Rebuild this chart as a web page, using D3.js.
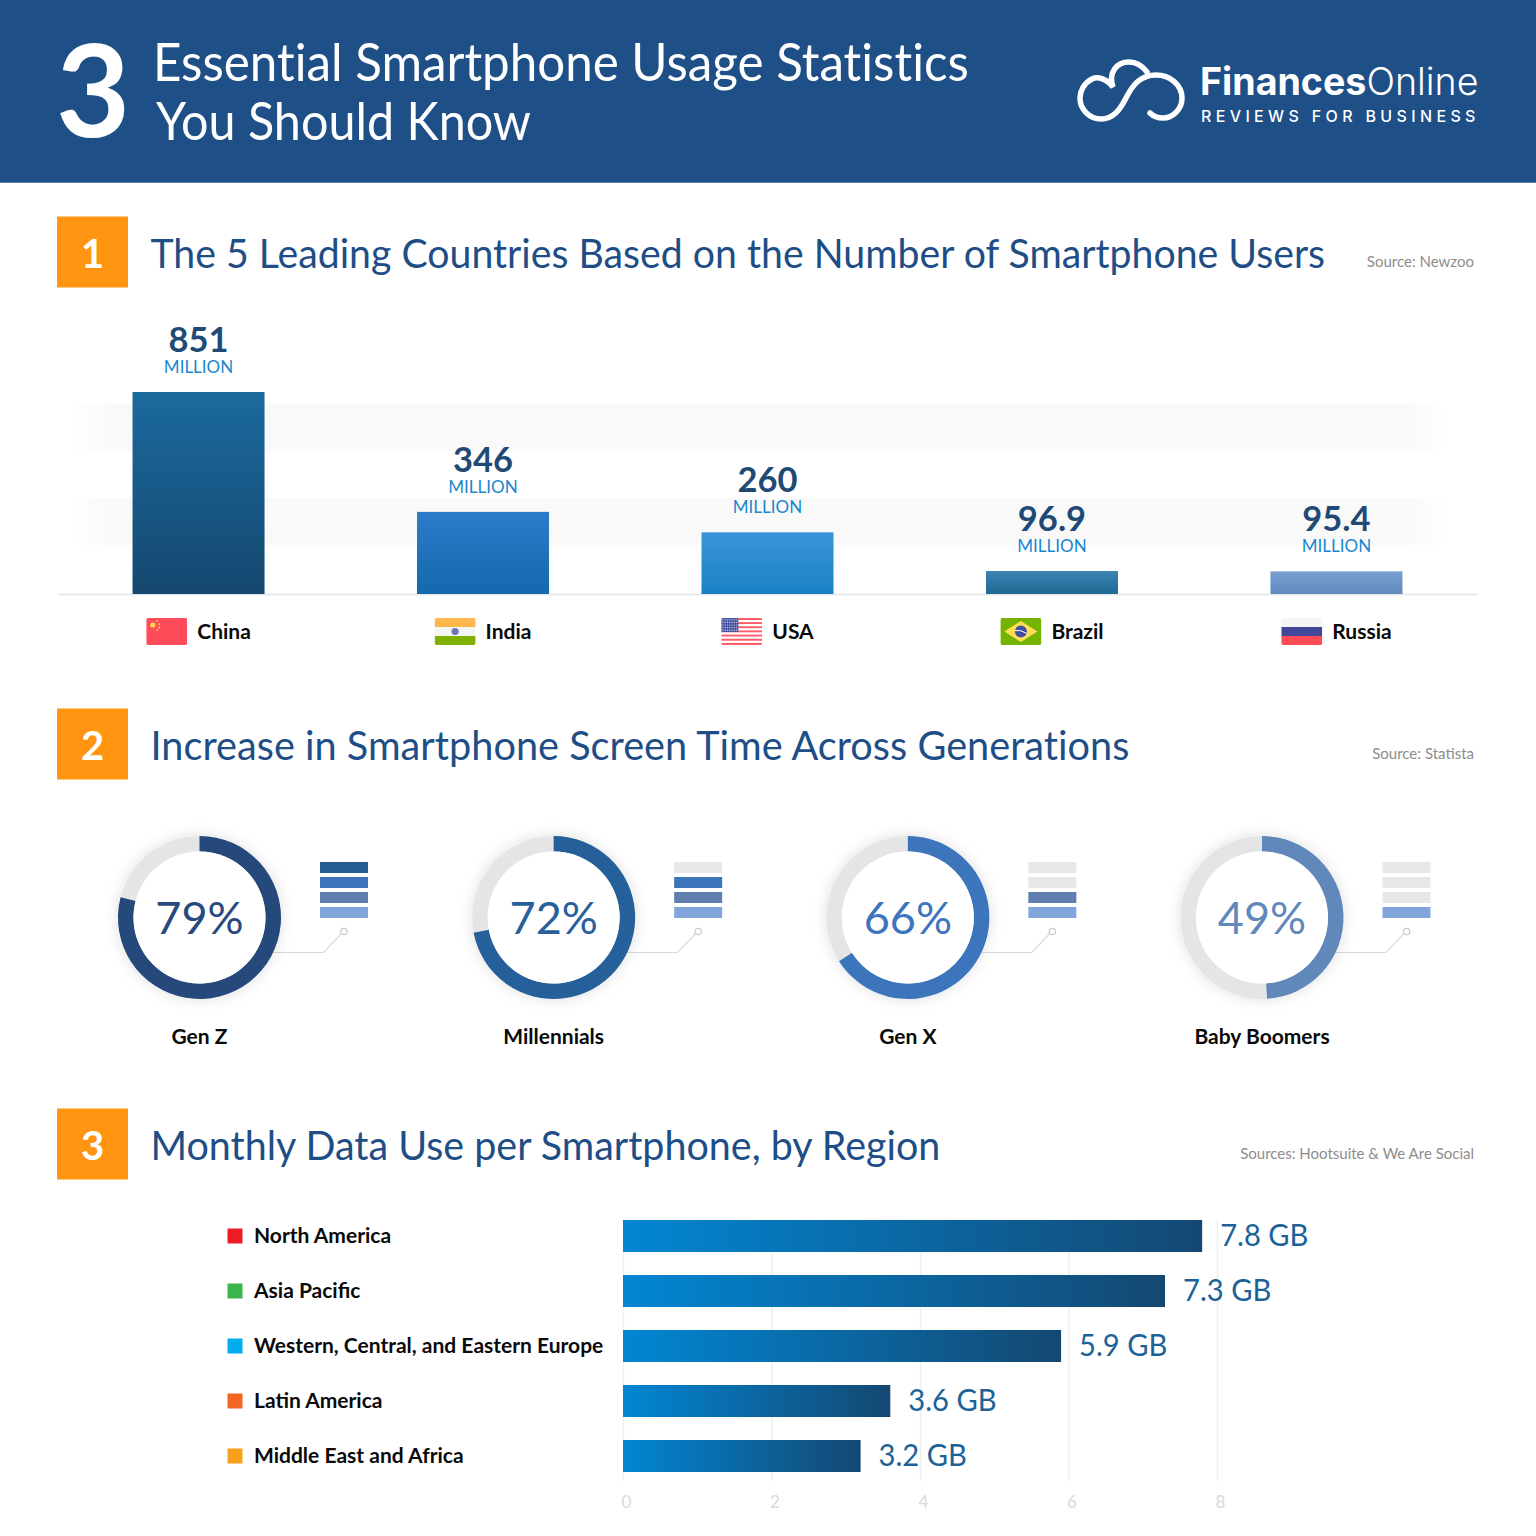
<!DOCTYPE html>
<html>
<head>
<meta charset="utf-8">
<script src="https://cdn.jsdelivr.net/npm/d3@7"></script>
<style>
  html, body { margin: 0; padding: 0; background: #fff; }
  svg { display: block; }
  text { font-family: Lato, "Open Sans", sans-serif; }
  .no-lig { font-variant-ligatures: none; }
</style>
</head>
<body>
<div id="graph"></div>
<script>
const pageTitle = ["Essential Smartphone Usage Statistics", "You Should Know"];

const sectionTitles = [
  "The 5 Leading Countries Based on the Number of Smartphone Users",
  "Increase in Smartphone Screen Time Across Generations",
  "Monthly Data Use per Smartphone, by Region"
];
const sectionSources = ["Source: Newzoo", "Source: Statista", "Sources: Hootsuite & We Are Social"];

// chart 1
const countries = ["China", "India", "USA", "Brazil", "Russia"];
const smartphoneUsers = [851, 346, 260, 96.9, 95.4];
const userGradients = [
  ["#1b6a9e", "#14476f"],
  ["#2b7cc9", "#1469ad"],
  ["#3a95d8", "#1a81c5"],
  ["#3c83b1", "#1f6a95"],
  ["#78a0d1", "#6188bc"]
];

// chart 2
const generations = ["Gen Z", "Millennials", "Gen X", "Baby Boomers"];
const screenTimeShare = [79, 72, 66, 49];
const generationColors = ["#27497b", "#27609a", "#3d75bc", "#6088ba"];
const litBars = [4, 3, 2, 1];
const stackColors = ["#265e92", "#3c74bb", "#5f7fae", "#82a5db"];

// chart 3
const regions = ["North America", "Asia Pacific", "Western, Central, and Eastern Europe", "Latin America", "Middle East and Africa"];
const dataUse = [7.8, 7.3, 5.9, 3.6, 3.2];
const regionColors = ["#ed1c24", "#39b54a", "#00aeef", "#f26522", "#f9a01b"];
const dataTicks = [0, 2, 4, 6, 8];

const config = {
  size: 1536,
  headerHeight: 183,
  sectionTop: [216.5, 708.5, 1108.5],
  box: 71
};

const svg = d3.select("#graph").append("svg")
  .attr("width", config.size)
  .attr("height", config.size)
  .attr("viewBox", `0 0 ${config.size} ${config.size}`);

const defs = svg.append("defs");

function verticalGradient(id, top, bottom) {
  const g = defs.append("linearGradient").attr("id", id)
    .attr("x1", 0).attr("y1", 0).attr("x2", 0).attr("y2", 1);
  g.append("stop").attr("offset", 0).attr("stop-color", top);
  g.append("stop").attr("offset", 1).attr("stop-color", bottom);
}

userGradients.forEach((c, i) => verticalGradient(`user-${i}`, c[0], c[1]));

const dataGradient = defs.append("linearGradient").attr("id", "data-bar");
dataGradient.append("stop").attr("offset", 0).attr("stop-color", "#0286d3");
dataGradient.append("stop").attr("offset", 1).attr("stop-color", "#144872");

const stripe = defs.append("linearGradient").attr("id", "stripe");
[[0, 0], [0.03, 1], [0.97, 1], [1, 0]].forEach(([o, a]) => {
  stripe.append("stop").attr("offset", o).attr("stop-color", "#f9f9f9").attr("stop-opacity", a);
});

const shadow = defs.append("filter").attr("id", "ring-shadow")
  .attr("x", "-30%").attr("y", "-30%").attr("width", "160%").attr("height", "160%");
shadow.append("feDropShadow").attr("dx", 0).attr("dy", 0)
  .attr("stdDeviation", 7).attr("flood-color", "#000").attr("flood-opacity", 0.13);

// the original type is a bit narrower than Lato at the same height
function squeeze(sel, factor) {
  const len = sel.node().getComputedTextLength();
  return sel.attr("textLength", len * factor).attr("lengthAdjust", "spacingAndGlyphs");
}

function drawHeader() {
  svg.append("rect").attr("width", config.size).attr("height", config.headerHeight).attr("fill", "#1e4f87");
  svg.append("rect").attr("y", config.headerHeight - 1).attr("width", config.size).attr("height", 1).attr("fill", "#5d83ad");

  svg.append("text").attr("x", 93).attr("y", 137).attr("text-anchor", "middle")
    .attr("font-size", 128).attr("font-weight", 700).attr("fill", "#fff").text("3");

  const line1 = svg.append("text").attr("class", "no-lig").attr("x", 153).attr("y", 81).attr("font-size", 52)
    .attr("fill", "#fff").text(pageTitle[0]);
  squeeze(line1, 0.948);
  const line2 = svg.append("text").attr("class", "no-lig").attr("x", 156).attr("y", 140).attr("font-size", 52)
    .attr("fill", "#fff").text(pageTitle[1]);
  squeeze(line2, 0.933);

  // cloud logo
  svg.append("path")
    .attr("d", "M1147,72 C1141,64 1134,62 1129,62 C1117,62 1108,72 1113,87 C1107,79 1098,76 1092,79 C1084,83 1080,91 1080,98 C1080,110 1090,119 1101,119 C1113,119 1120,110 1126,98 C1133,84 1141,75 1156,75 C1170,75 1182,85 1182,98 C1182,110 1172,118 1163,118 C1157,118 1153,116 1150,113")
    .attr("fill", "none").attr("stroke", "#fff").attr("stroke-width", 5.5).attr("stroke-linecap", "round");

  const brand = svg.append("text").attr("x", 1200).attr("y", 94.5)
    .style("font-family", "Inter, sans-serif").attr("font-size", 37.6).attr("fill", "#fff");
  brand.append("tspan").attr("font-weight", 700).text("Finances");
  brand.append("tspan").attr("font-weight", 300).text("Online");

  svg.append("text").attr("x", 1201).attr("y", 122)
    .style("font-family", "Inter, sans-serif").attr("font-size", 16).attr("font-weight", 500)
    .attr("letter-spacing", 4.35).attr("fill", "#fff").text("REVIEWS FOR BUSINESS");
}

function drawSectionHeads() {
  const titleFit = [0.957, 0.968, 0.962];
  config.sectionTop.forEach((top, i) => {
    svg.append("rect").attr("x", 57).attr("y", top).attr("width", config.box).attr("height", config.box).attr("fill", "#ff9510");
    svg.append("text").attr("x", 92.5).attr("y", top + 51).attr("text-anchor", "middle")
      .attr("font-size", 40).attr("font-weight", 700).attr("fill", "#fff").text(i + 1);
    const title = svg.append("text").attr("class", "no-lig").attr("x", 150.5).attr("y", top + 51).attr("font-size", 41)
      .attr("fill", "#1e4e85").text(sectionTitles[i]);
    squeeze(title, titleFit[i]);
    svg.append("text").attr("x", 1474).attr("y", top + 50.5).attr("text-anchor", "end")
      .attr("font-size", 15).attr("fill", "#8d8d8d").text(sectionSources[i]);
  });
}

function drawFlag(g, name) {
  const w = 41, h = 27;
  const clipId = `flag-${name}`;
  defs.append("clipPath").attr("id", clipId).append("rect").attr("width", w).attr("height", h).attr("rx", 2);
  const f = g.append("g").attr("clip-path", `url(#${clipId})`);
  const band = (y, ht, fill) => f.append("rect").attr("y", y).attr("width", w).attr("height", ht).attr("fill", fill);

  if (name === "China") {
    band(0, h, "#ff4c5a");
    f.append("circle").attr("cx", 6.5).attr("cy", 7).attr("r", 2.6).attr("fill", "#ffd54a");
    [[11, 3], [13, 6], [13, 9.5], [11, 12]].forEach(([x, y]) => {
      f.append("circle").attr("cx", x).attr("cy", y).attr("r", 0.9).attr("fill", "#ffd54a");
    });
  } else if (name === "India") {
    band(0, 9, "#ffb74d");
    band(9, 9, "#f5f5f5");
    band(18, 9, "#7fb200");
    f.append("circle").attr("cx", 20.5).attr("cy", 13.5).attr("r", 3.6).attr("fill", "#6f76b8");
  } else if (name === "USA") {
    d3.range(13).forEach(i => band(i * h / 13, h / 13, i % 2 ? "#fff" : "#ff5a66"));
    f.append("rect").attr("width", 17).attr("height", 14).attr("fill", "#4a559f");
    d3.range(5).forEach(r => d3.range(7).forEach(c => {
      f.append("circle").attr("cx", 1.6 + c * 2.3).attr("cy", 1.8 + r * 2.6).attr("r", 0.6).attr("fill", "#dfe2f5");
    }));
  } else if (name === "Brazil") {
    band(0, h, "#74b300");
    f.append("path").attr("d", `M${w / 2},3 L${w - 4},${h / 2} L${w / 2},${h - 3} L4,${h / 2} Z`).attr("fill", "#ffde55");
    f.append("circle").attr("cx", w / 2).attr("cy", h / 2).attr("r", 6).attr("fill", "#3f4f9f");
    f.append("path").attr("d", `M${w / 2 - 6},${h / 2 - 1} Q${w / 2},${h / 2 - 2} ${w / 2 + 6},${h / 2 + 2}`)
      .attr("fill", "none").attr("stroke", "#fff").attr("stroke-width", 1);
  } else {
    band(0, 9, "#f5f5f5");
    band(9, 9, "#41479b");
    band(18, 9, "#ff4b55");
  }
}

function drawUsersChart() {
  const x = d3.scaleBand().domain(countries).range([58, 1477]).paddingInner(0.536).paddingOuter(0.262);
  const y = d3.scaleLinear().domain([0, 851]).range([594, 392]);

  [404, 498].forEach(top => {
    svg.append("rect").attr("x", 70).attr("y", top).attr("width", 1375).attr("height", 47).attr("fill", "url(#stripe)");
  });

  const axis = svg.append("g").attr("transform", `translate(0,${y(0)})`)
    .call(d3.axisBottom(x).tickSize(0).tickFormat(""));
  axis.select(".domain").attr("stroke", "#e8e9eb").attr("stroke-width", 2);

  const col = svg.selectAll(".user-col").data(countries).join("g").attr("class", "user-col");

  col.append("rect")
    .attr("x", d => x(d))
    .attr("y", (d, i) => y(smartphoneUsers[i]))
    .attr("width", x.bandwidth())
    .attr("height", (d, i) => y(0) - y(smartphoneUsers[i]))
    .attr("fill", (d, i) => `url(#user-${i})`);

  col.append("text")
    .attr("x", d => x(d) + x.bandwidth() / 2)
    .attr("y", (d, i) => y(smartphoneUsers[i]) - 40)
    .attr("text-anchor", "middle").attr("font-size", 34.5).attr("font-weight", 700)
    .attr("fill", "#1f4a75").text((d, i) => smartphoneUsers[i]);

  col.append("text")
    .attr("x", d => x(d) + x.bandwidth() / 2)
    .attr("y", (d, i) => y(smartphoneUsers[i]) - 19)
    .attr("text-anchor", "middle").attr("font-size", 17)
    .attr("fill", "#1a87cf").text("MILLION");

  col.each(function (d) {
    const g = d3.select(this).append("g");
    const label = g.append("text").attr("font-size", 21).attr("font-weight", 700)
      .attr("fill", "#0a0a0a").attr("x", 51).attr("y", 21).text(d);
    const total = 51 + label.node().getComputedTextLength();
    g.attr("transform", `translate(${x(d) + x.bandwidth() / 2 - total / 2},618)`);
    drawFlag(g, d);
  });
}

function drawScreenTime() {
  const x = d3.scalePoint().domain(generations).range([199.5, 1262]);
  const cy = 917.5;
  const outer = 81.5, inner = 66;
  const arc = d3.arc().innerRadius(inner).outerRadius(outer);
  const pie = d3.scaleLinear().domain([0, 100]).range([0, 2 * Math.PI]);

  generations.forEach((name, i) => {
    const g = svg.append("g").attr("transform", `translate(${x(name)},${cy})`);

    // connector goes under the ring
    g.append("path").attr("d", "M60,35 H124 L142,16").attr("fill", "none").attr("stroke", "#d9dadb").attr("stroke-width", 1.2);
    g.append("circle").attr("cx", 144.5).attr("cy", 14).attr("r", 3.2).attr("fill", "#fff").attr("stroke", "#c9cacb").attr("stroke-width", 1.2);

    const ring = g.append("g").attr("filter", "url(#ring-shadow)");
    ring.append("path").attr("d", arc({ startAngle: 0, endAngle: 2 * Math.PI })).attr("fill", "#e5e5e5");
    ring.append("path").attr("d", arc({ startAngle: 0, endAngle: pie(screenTimeShare[i]) })).attr("fill", generationColors[i]);
    g.append("circle").attr("r", inner).attr("fill", "#fff");

    g.append("text").attr("y", 16).attr("text-anchor", "middle").attr("font-size", 45)
      .attr("fill", generationColors[i]).text(`${screenTimeShare[i]}%`);

    g.append("text").attr("y", 126.5).attr("text-anchor", "middle").attr("font-size", 21)
      .attr("font-weight", 700).attr("fill", "#0a0a0a").text(name);

    stackColors.forEach((c, j) => {
      const lit = j >= stackColors.length - litBars[i];
      g.append("rect").attr("x", 120.5).attr("y", -55.5 + j * 15).attr("width", 48).attr("height", 11)
        .attr("fill", lit ? c : "#e6e7e8");
    });
  });
}

function drawDataUse() {
  const x = d3.scaleLinear().domain([0, 8]).range([623, 1217]);
  const y = d3.scaleBand().domain(regions).range([1208.5, 1483.5]).paddingInner(0.418).paddingOuter(0.209);

  const axis = svg.append("g").attr("transform", "translate(0,1481)")
    .call(d3.axisBottom(x).tickValues(dataTicks).tickSize(-261).tickFormat(d3.format("d")));
  axis.select(".domain").remove();
  axis.selectAll("line").attr("stroke", "#eeeff0").attr("stroke-width", 1.5);
  axis.selectAll("text").attr("dx", 3).attr("y", 15).attr("font-size", 17)
    .style("font-family", "Lato").attr("fill", "#d9d9d9");

  const row = svg.selectAll(".data-row").data(regions).join("g").attr("class", "data-row");

  row.append("rect")
    .attr("x", x(0))
    .attr("y", d => y(d))
    .attr("width", (d, i) => x(dataUse[i]) - x(0))
    .attr("height", y.bandwidth())
    .attr("fill", "url(#data-bar)");

  const values = row.append("text")
    .attr("x", (d, i) => x(dataUse[i]) + 18)
    .attr("y", d => y(d) + y.bandwidth() / 2 + 10)
    .attr("font-size", 31).attr("fill", "#1c6296")
    .text((d, i) => `${dataUse[i]} GB`);
  values.each(function () { squeeze(d3.select(this), 0.94); });

  row.append("rect")
    .attr("x", 227.5)
    .attr("y", d => y(d) + y.bandwidth() / 2 - 7.5)
    .attr("width", 15).attr("height", 15)
    .attr("fill", (d, i) => regionColors[i]);

  row.append("text")
    .attr("x", 254)
    .attr("y", d => y(d) + y.bandwidth() / 2 + 7)
    .attr("font-size", 21).attr("font-weight", 700).attr("fill", "#0a0a0a")
    .text(d => d);
}

drawHeader();
drawSectionHeads();
drawUsersChart();
drawScreenTime();
drawDataUse();
</script>
</body>
</html>
